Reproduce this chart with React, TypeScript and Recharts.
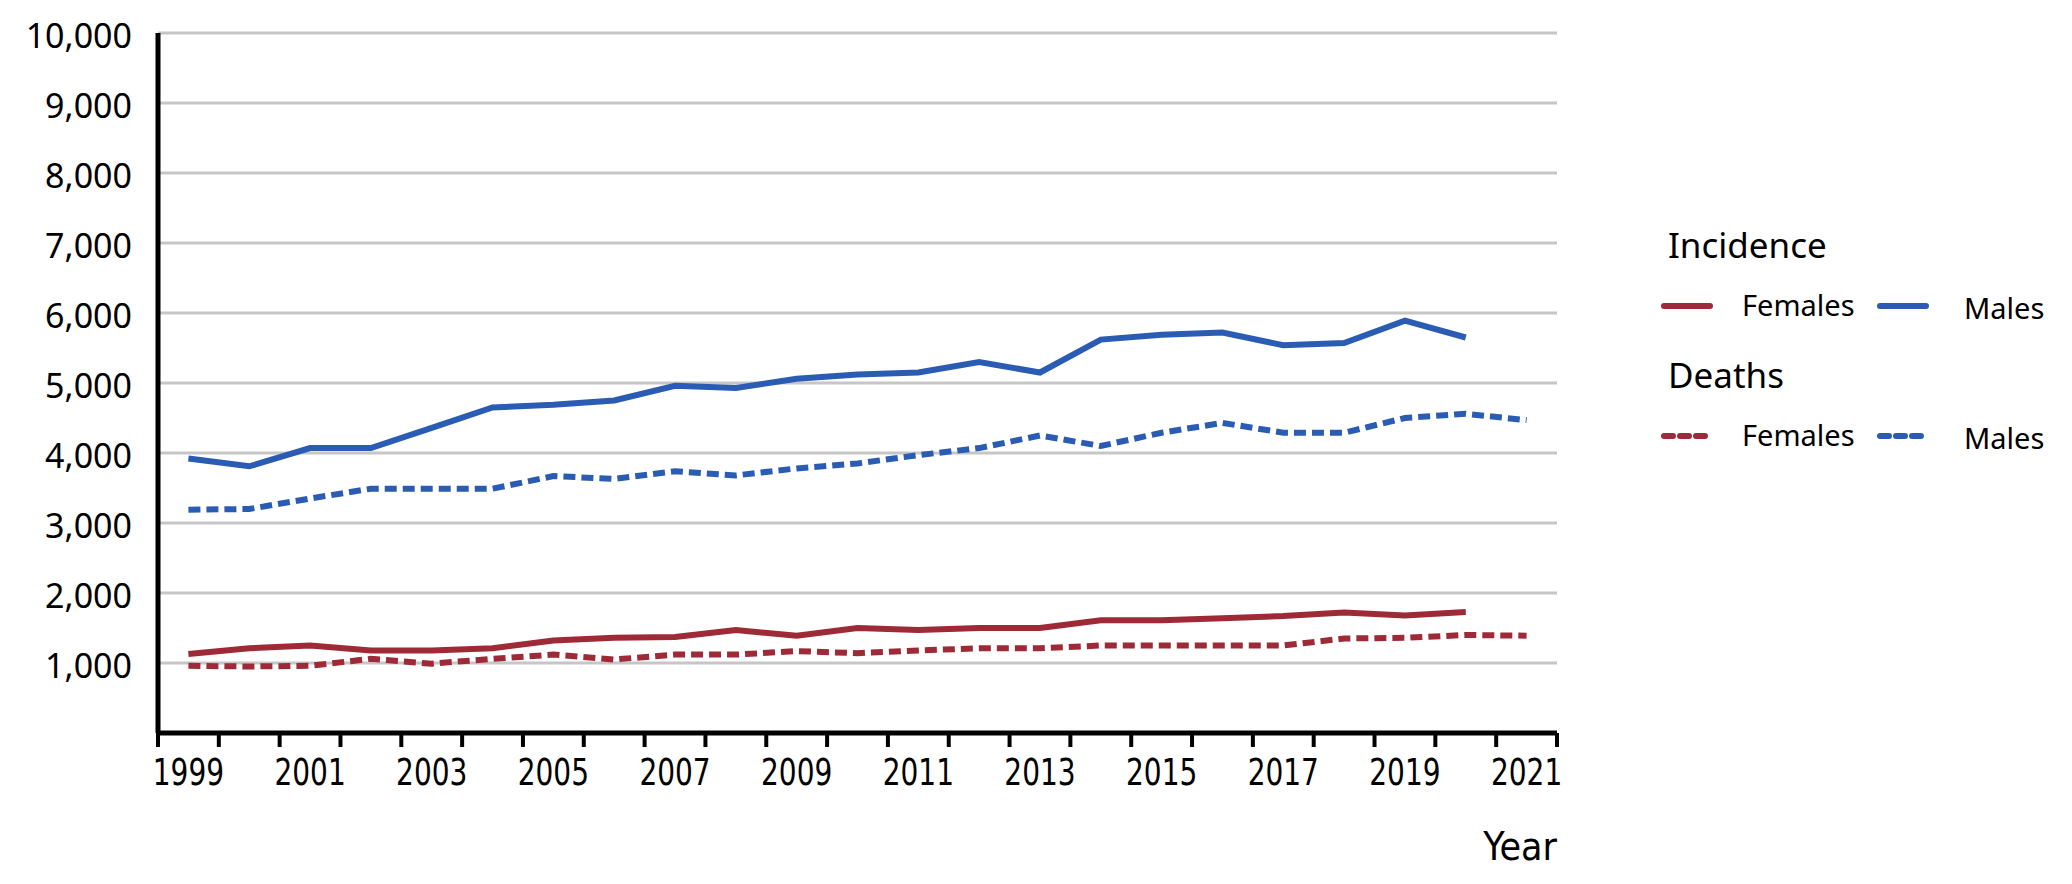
import { LineChart, Line, XAxis, YAxis, CartesianGrid, Legend } from 'recharts'

const YEARS = [1999, 2000, 2001, 2002, 2003, 2004, 2005, 2006, 2007, 2008, 2009, 2010, 2011, 2012, 2013, 2014, 2015, 2016, 2017, 2018, 2019, 2020, 2021]

// incidence stops at 2020
const INCIDENCE_FEMALES = [1130, 1210, 1250, 1180, 1180, 1210, 1320, 1360, 1370, 1470, 1390, 1500, 1470, 1500, 1500, 1610, 1610, 1640, 1670, 1720, 1680, 1730]
const INCIDENCE_MALES = [3920, 3810, 4070, 4070, 4360, 4650, 4690, 4750, 4960, 4930, 5060, 5120, 5150, 5300, 5150, 5620, 5690, 5720, 5540, 5570, 5890, 5650]
const DEATHS_FEMALES = [960, 950, 960, 1060, 990, 1060, 1120, 1050, 1120, 1120, 1170, 1140, 1180, 1210, 1210, 1250, 1250, 1250, 1250, 1350, 1360, 1400, 1390]
const DEATHS_MALES = [3190, 3200, 3350, 3490, 3490, 3490, 3670, 3630, 3740, 3680, 3780, 3850, 3970, 4070, 4250, 4100, 4290, 4430, 4290, 4290, 4500, 4560, 4470]

const Y_TICKS = [1000, 2000, 3000, 4000, 5000, 6000, 7000, 8000, 9000, 10000]
const YEAR_LABELS = [1999, 2001, 2003, 2005, 2007, 2009, 2011, 2013, 2015, 2017, 2019, 2021]
const YEAR_BOUNDS = [1998.5, 1999.5, 2000.5, 2001.5, 2002.5, 2003.5, 2004.5, 2005.5, 2006.5, 2007.5, 2008.5, 2009.5, 2010.5, 2011.5, 2012.5, 2013.5, 2014.5, 2015.5, 2016.5, 2017.5, 2018.5, 2019.5, 2020.5, 2021.5]

const RED = '#9d2a36'
const BLUE = '#2b5cb4'
const DASH = '12 6'

const data = YEARS.map((year, i) => ({
  year,
  incidenceFemales: INCIDENCE_FEMALES[i] ?? null,
  incidenceMales: INCIDENCE_MALES[i] ?? null,
  deathsFemales: DEATHS_FEMALES[i] ?? null,
  deathsMales: DEATHS_MALES[i] ?? null,
}))

const SERIES = [
  { key: 'incidenceFemales', label: 'Females', color: RED, dashed: false },
  { key: 'incidenceMales', label: 'Males', color: BLUE, dashed: false },
  { key: 'deathsFemales', label: 'Females', color: RED, dashed: true },
  { key: 'deathsMales', label: 'Males', color: BLUE, dashed: true },
]

const narrow = "'DejaVu Sans Condensed', 'DejaVu Sans', sans-serif"
const sans = "'Noto Sans', sans-serif"

// the year labels are set in a condensed face, so squeeze them a little
function YearTick({ x, y, payload }: any) {
  return (
    <text transform={`translate(${x},${y}) scale(0.82,1)`} textAnchor="middle" dy="0.71em"
      fontFamily={narrow} fontSize={38} fill="#000">
      {payload.value}
    </text>
  )
}

function LegendBox() {
  const rows = [
    { title: 'Incidence', titleY: 58, lineY: 106, items: [SERIES[0], SERIES[1]] },
    { title: 'Deaths', titleY: 188, lineY: 236, items: [SERIES[2], SERIES[3]] },
  ]
  return (
    <svg width={420} height={270} style={{ display: 'block' }}>
      {rows.map((r) => (
        <g key={r.title}>
          <text x={28} y={r.titleY} fontFamily={sans} fontSize={35} fill="#000">{r.title}</text>
          {r.items.map((s, j) => {
            const x0 = j === 0 ? 24 : 240
            return (
              <g key={s.key}>
                <line x1={x0} x2={x0 + 46} y1={r.lineY} y2={r.lineY} stroke={s.color} strokeWidth={6}
                  strokeLinecap="round" strokeDasharray={s.dashed ? '9 7' : undefined} />
                <text x={j === 0 ? 102 : 324} y={r.lineY + (j === 0 ? 10 : 13)} fontFamily={sans} fontSize={29} fill="#000">{s.label}</text>
              </g>
            )
          })}
        </g>
      ))}
    </svg>
  )
}

export default function App() {
  return (
    <div style={{ position: 'absolute', left: 0, top: 0, background: '#fff' }}>
      <LineChart width={2072} height={884} data={data} margin={{ top: 33, right: 95, bottom: 24, left: 30 }}>
        <CartesianGrid horizontal vertical={false} stroke="#c6c6c6" strokeWidth={3} />
        <XAxis
          xAxisId="bounds"
          dataKey="year"
          type="number"
          domain={[1998.5, 2021.5]}
          ticks={YEAR_BOUNDS}
          tickFormatter={() => ''}
          height={1}
          tickSize={14}
          axisLine={{ stroke: '#000', strokeWidth: 5 }}
          tickLine={{ stroke: '#000', strokeWidth: 4 }}
        />
        <XAxis
          xAxisId="labels"
          dataKey="year"
          type="number"
          domain={[1998.5, 2021.5]}
          ticks={YEAR_LABELS}
          height={126}
          tickSize={0}
          tickMargin={24}
          axisLine={false}
          tickLine={false}
          tick={<YearTick />}
          label={{ value: 'Year', position: 'insideBottomRight', offset: 0, fill: '#000', fontSize: 39, fontFamily: narrow }}
        />
        <YAxis
          domain={[0, 10000]}
          ticks={Y_TICKS}
          width={128}
          tickSize={0}
          tickMargin={26}
          tickLine={false}
          axisLine={{ stroke: '#000', strokeWidth: 5 }}
          tickFormatter={(v) => v.toLocaleString('en-US')}
          tick={{ fill: '#000', fontSize: 34, fontFamily: sans, dy: 3 }}
        />
        <Legend
          layout="vertical"
          align="right"
          verticalAlign="top"
          content={() => <LegendBox />}
          wrapperStyle={{ left: 1640, top: 200, width: 420, height: 270 }}
        />
        {SERIES.map((s) => (
          <Line
            key={s.key}
            xAxisId="bounds"
            dataKey={s.key}
            stroke={s.color}
            strokeWidth={6}
            strokeDasharray={s.dashed ? DASH : undefined}
            dot={false}
            activeDot={false}
            isAnimationActive={false}
          />
        ))}
      </LineChart>
    </div>
  )
}
